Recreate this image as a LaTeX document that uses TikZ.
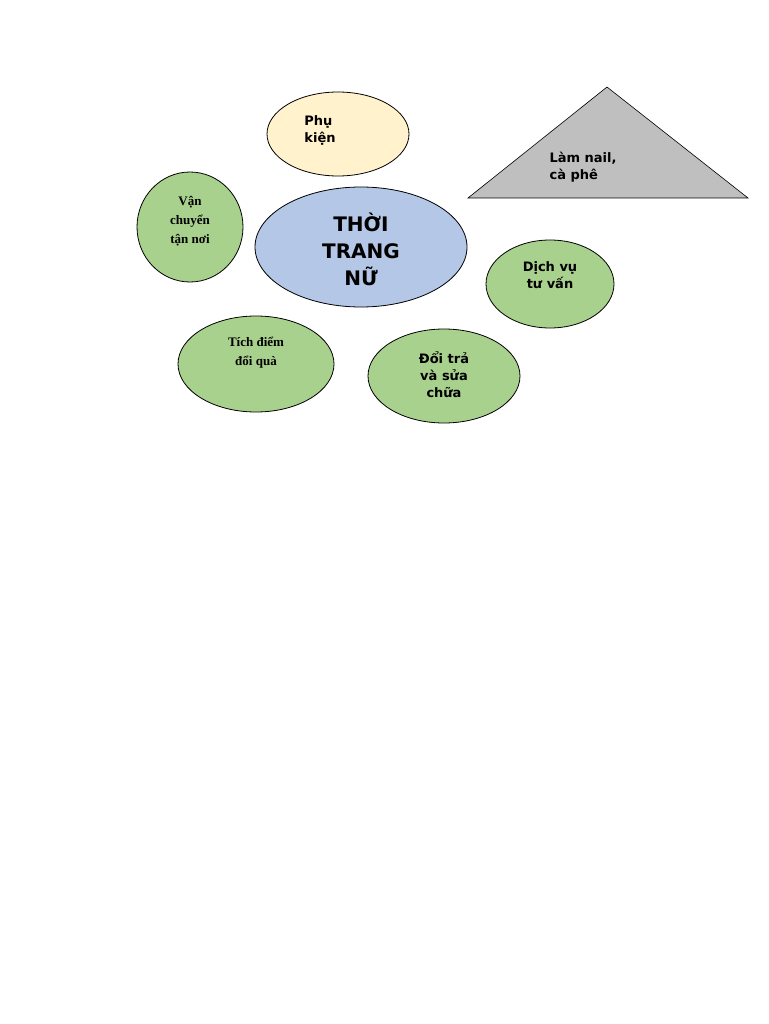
\documentclass[tikz,border=0pt]{standalone}
\usepackage{fontspec}
\setmainfont{DejaVu Sans}
\newfontfamily\serifb{Liberation Serif}
\usetikzlibrary{shapes.geometric}
\definecolor{yel}{HTML}{FFF2CC}
\definecolor{grn}{HTML}{A9D18E}
\definecolor{blu}{HTML}{B4C7E7}
\definecolor{gry}{HTML}{BFBFBF}
\tikzset{ell/.style={draw=black,line width=0.8pt,ellipse},
 sans/.style={font=\fontsize{13}{17}\selectfont\bfseries,align=left},
 ser/.style={font=\serifb\fontsize{13}{19}\selectfont\bfseries,align=center}}
\begin{document}
\begin{tikzpicture}[x=1pt,y=-1pt]
\useasboundingbox (0,0) rectangle (768,1024);
\fill[white] (0,0) rectangle (768,1024);
\draw[ell,fill=yel] (338,134) ellipse [x radius=71,y radius=42];
\node[sans] (phu) at (320,130) {Phụ\\kiện};
\coordinate (t1) at (468,198); \coordinate (t2) at (748,198); \coordinate (t3) at (607,87);
\draw[fill=gry,line width=0.6pt] (t1)--(t2)--(t3)--cycle;
\node[sans,anchor=west] (lam) at (546,167) {Làm nail,\\cà phê};
\draw[ell,fill=grn] (190,227) ellipse [x radius=53,y radius=55];
\node[ser] (van) at (190,221) {Vận\\chuyển\\tận nơi};
\draw[ell,fill=blu] (361,247) ellipse [x radius=106,y radius=60];
\node[font=\fontsize{20}{27}\selectfont\bfseries,align=center] (thoi) at (361,249) {THỜI\\TRANG\\NỮ};
\draw[ell,fill=grn] (550,284) ellipse [x radius=64,y radius=44];
\node[sans,align=center] (dich) at (550,275) {Dịch vụ\\tư vấn};
\draw[ell,fill=grn] (256,364) ellipse [x radius=78,y radius=48];
\node[ser] (tich) at (256,353) {Tích điểm\\đổi quà};
\draw[ell,fill=grn] (444,376) ellipse [x radius=76,y radius=47];
\node[sans,align=center] (doi) at (444,375) {Đổi trả\\và sửa\\chữa};
\end{tikzpicture}
\end{document}
